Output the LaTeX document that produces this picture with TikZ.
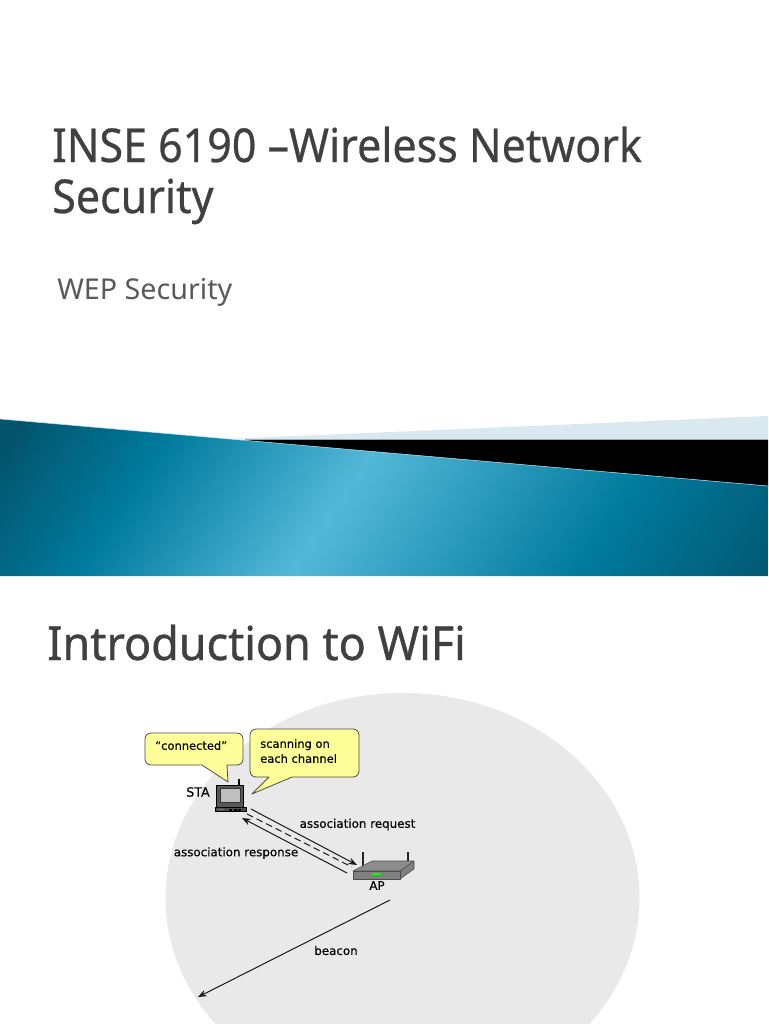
\documentclass[tikz,border=0pt]{standalone}
\usepackage{fontspec}
\usetikzlibrary{arrows.meta}
\setmainfont{Noto Sans}
\newfontfamily\titlefont[FakeStretch=0.921,FakeBold=0.5]{Noto Sans}
\newfontfamily\introfont[FakeStretch=0.962,FakeBold=0.8]{Noto Sans}
\newfontfamily\labelfont[FakeBold=0.25]{DejaVu Sans}
\definecolor{titlegray}{HTML}{404040}
\definecolor{subgray}{HTML}{595959}
\definecolor{discgray}{HTML}{E9E9E9}
\definecolor{noteyellow}{HTML}{FFFF99}
\definecolor{paleband}{HTML}{D9E9F0}
\definecolor{paneldark}{HTML}{03546C}
\definecolor{panelmid}{HTML}{007A9C}
\definecolor{panellight}{HTML}{54B8D8}
\pgfdeclarehorizontalshading{panelblue}{100bp}{
	color(0bp)=(paneldark);
	color(34.5bp)=(paneldark);
	color(41bp)=(panelmid);
	color(50bp)=(panellight);
	color(62bp)=(panelmid);
	color(71bp)=(paneldark);
	color(100bp)=(paneldark)}
\tikzset{
	pagetitle/.style={anchor=base west,inner sep=0pt,text=titlegray,font=\titlefont\fontsize{35}{35}\selectfont},
	pagesub/.style={anchor=base west,inner sep=0pt,text=subgray,font=\fontsize{21.5}{21.5}\selectfont},
	notetext/.style={anchor=west,inner sep=0pt,align=left,font=\labelfont\fontsize{8.6}{11.2}\selectfont},
	notebox/.style={draw=black!70,fill=noteyellow,line width=0.6pt},
	linktext/.style={inner sep=0pt,font=\labelfont\fontsize{8.9}{9}\selectfont},
	linkline/.style={line width=0.75pt,black!90}
}
\begin{document}
\begin{tikzpicture}[x=0.75pt,y=-0.75pt,line join=round,>={Stealth[length=6.5pt,width=5pt]}]
	\useasboundingbox (0,0) rectangle (768,1024);
	\fill[white] (0,0) rectangle (768,1024);
	% top slide
	\fill[paleband] (225,439)--(768,416)--(768,439)--cycle;
	\fill[black] (225,440)--(768,440)--(768,487)--cycle;
	\draw[gray!70,line width=0.5pt] (245,439.5)--(768,439.5);
	\begin{scope}
		\clip (0,419)--(768,486)--(768,576)--(0,576)--cycle;
		\shade[shading=panelblue,shading angle=-34] (-170,15) rectangle (830,1015);
	\end{scope}
	\draw[white!70!cyan,line width=0.4pt] (0,419)--(768,486);
	\node[pagetitle] (titlea) at (52,162) {INSE 6190 –Wireless Network};
	\node[pagetitle] (titleb) at (52,213) {Security};
	\node[pagesub] (subtitle) at (57,299) {WEP Security};
	% second slide
	\node[pagetitle,font=\introfont\fontsize{35}{35}\selectfont] (slidetitle) at (47,660) {Introduction to WiFi};
	\begin{scope}
		\clip (0,576) rectangle (768,1024);
		\fill[discgray] (402.5,898) ellipse (237 and 205);
	\end{scope}
	% notes
	\draw[notebox,rounded corners=4.5pt] (145,733)--(243,733)--(243,765)[sharp corners]--(227,765)--(228,782)--(202,765)[rounded corners=4.5pt]--(145,765)--cycle;
	\draw[notebox,rounded corners=4.5pt] (250,729)--(359,729)--(359,777)[sharp corners]--(292,777)--(252,794)--(269,777)[rounded corners=4.5pt]--(250,777)--cycle;
	\node[notetext] (connected) at (155,745.5) {“connected”};
	\node[notetext] (scanning) at (260,751) {scanning on\\each channel};
	% laptop
	\draw[black,line width=0.8pt] (239,779)--(239,786);
	\filldraw[fill=black!65,draw=black] (216.5,785) rectangle (243.5,807);
	\filldraw[fill=black!25,draw=black!80] (220,788) rectangle (240,802);
	\filldraw[fill=black!70,draw=black] (215,807) rectangle (246,811.5);
	\fill[green!80!black] (218,808.7) rectangle (224,810.2);
	\foreach \x in {229,234,238}\fill[black] (\x,808.5) rectangle (\x+3,810.5);
	\node[inner sep=0pt,minimum width=31pt,minimum height=25pt] (sta) at (230,796) {};
	\node[linktext,font=\labelfont\fontsize{9.5}{9}\selectfont] (stalabel) at (198,792) {STA};
	% access point
	\foreach \x/\y in {363/868,408/871}\draw[black!85,line width=1.6pt] (\x,852)--(\x,\y);
	\filldraw[fill=black!50,draw=black!70,line width=0.4pt] (400,871)--(414,861)--(414,869)--(400,879)--cycle;
	\filldraw[fill=black!45,draw=black!70,line width=0.4pt] (353,871)--(372,861)--(414,861)--(400,871)--cycle;
	\filldraw[fill=black!50,draw=black!70,line width=0.4pt] (353,871) rectangle (400,879);
	\fill[green] (372,873) rectangle (381,875);
	\node[inner sep=0pt,minimum width=46pt,minimum height=20pt] (ap) at (384,866) {};
	\node[linktext] (aplabel) at (377,885.5) {AP};
	% links
	\coordinate (reqa) at (251,809);
	\coordinate (reqb) at (357,865);
	\coordinate (scana) at (247,814);
	\coordinate (scanb) at (352,867);
	\coordinate (resa) at (347,873);
	\coordinate (resb) at (242,818);
	\coordinate (beaca) at (390,900);
	\coordinate (beacb) at (198,997);
	\draw[->,linkline] (reqa)--(reqb);
	\draw[linkline,dash pattern=on 5pt off 3pt] (scana)--(scanb);
	\draw[->,linkline] (resa)--(resb);
	\draw[->,linkline] (beaca)--(beacb);
	\node[linktext] (reqlabel) at (357.5,824.5) {association request};
	\node[linktext] (reslabel) at (236,853) {association response};
	\node[linktext] (beaconlabel) at (336,950.5) {beacon};
\end{tikzpicture}
\end{document}
